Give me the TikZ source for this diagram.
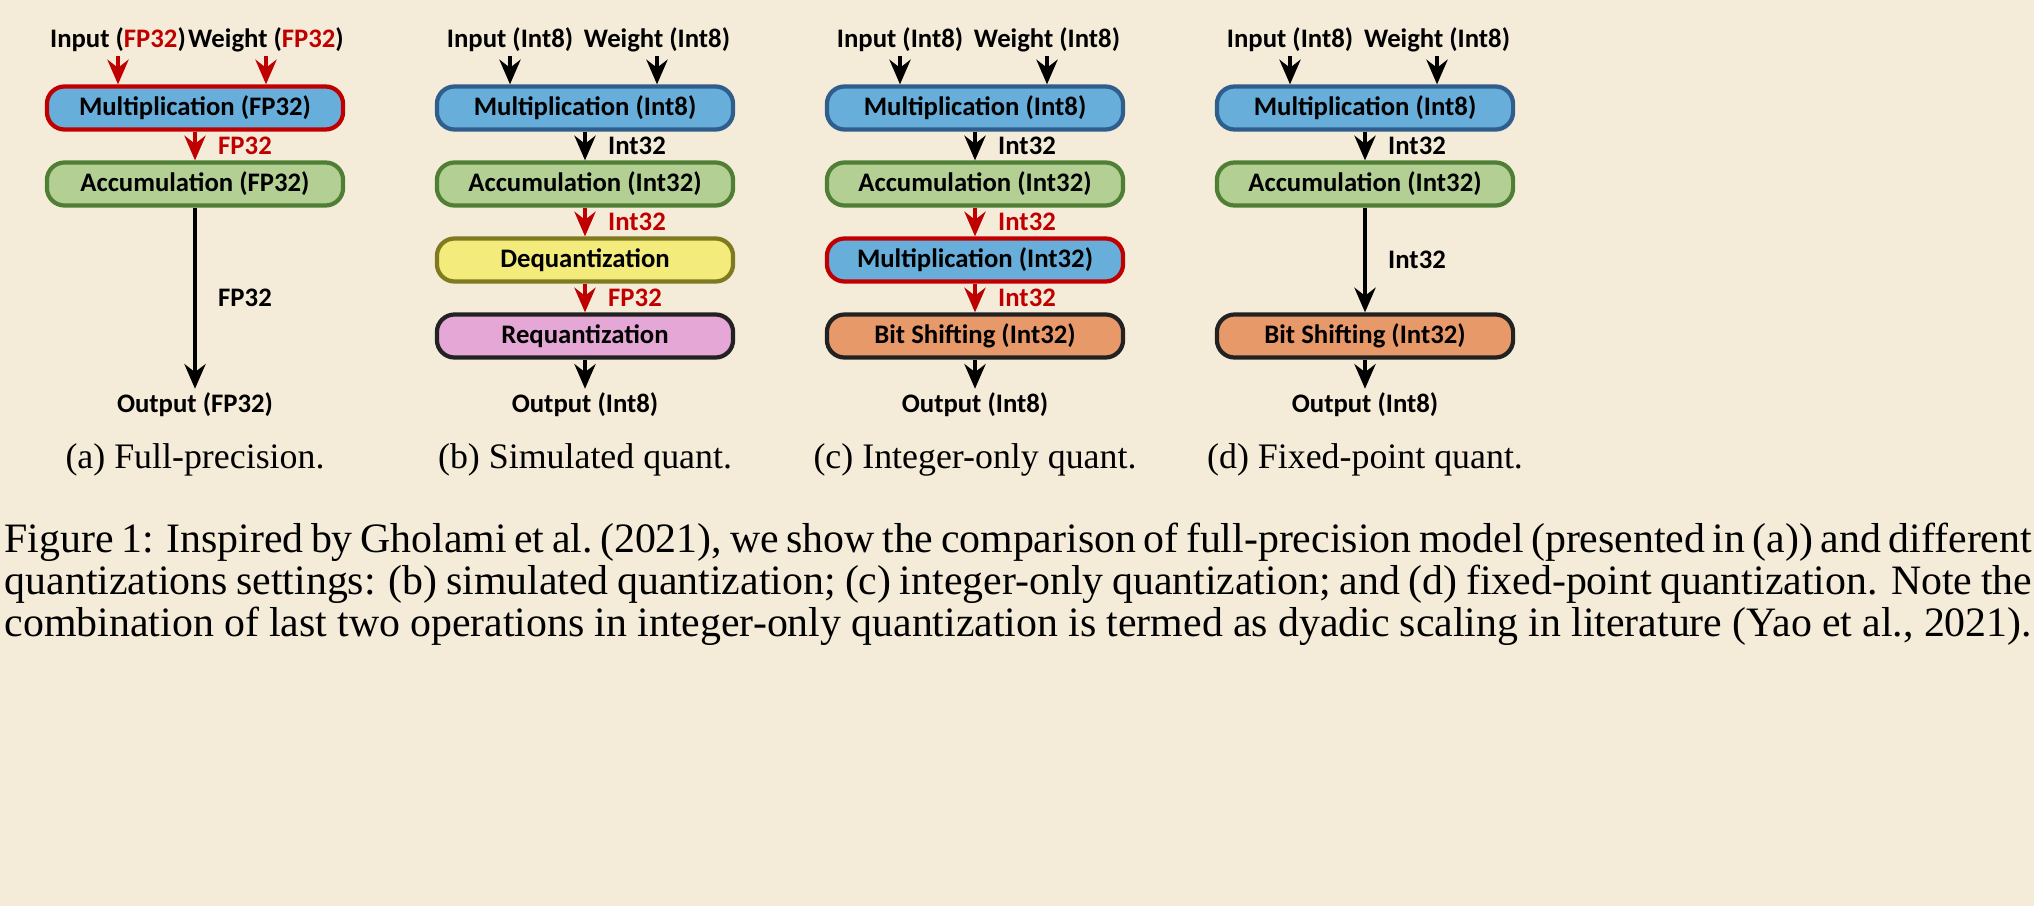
\documentclass[tikz,border=0pt]{standalone}
\usepackage{fontspec}
\setmainfont{Liberation Serif}
\newfontfamily\boxfont{Carlito}
\usetikzlibrary{arrows.meta}
\definecolor{bg}{HTML}{F4ECD9}
\definecolor{qred}{HTML}{C00000}
\definecolor{bfill}{HTML}{67AEDB}\definecolor{bdraw}{HTML}{2F5D8C}
\definecolor{gfill}{HTML}{B3CF94}\definecolor{gdraw}{HTML}{4F7F35}
\definecolor{yfill}{HTML}{F3EB7C}\definecolor{ydraw}{HTML}{7F7A20}
\definecolor{pfill}{HTML}{E5A8D6}\definecolor{pdraw}{HTML}{222222}
\definecolor{ofill}{HTML}{E8996A}\definecolor{odraw}{HTML}{222222}
\tikzset{
  opbox/.style={draw, line width=1.2pt, rounded corners=5pt, minimum width=2.96cm, minimum height=0.43cm, inner sep=0pt, font=\boxfont\bfseries\fontsize{7.6}{9}\selectfont},
  bluebox/.style={opbox, fill=bfill, draw=bdraw},
  greenbox/.style={opbox, fill=gfill, draw=gdraw},
  yellowbox/.style={opbox, fill=yfill, draw=ydraw},
  pinkbox/.style={opbox, fill=pfill, draw=pdraw},
  orangebox/.style={opbox, fill=ofill, draw=odraw},
  redb/.style={draw=qred},
  lbl/.style={font=\boxfont\bfseries\fontsize{7.6}{9}\selectfont, inner sep=1pt},
  arr/.style={-{Stealth[length=7pt,width=6pt]}, line width=1.2pt},
  rarr/.style={arr, draw=qred},
  subcap/.style={font=\fontsize{10.2}{12}\selectfont}
}
\begin{document}
\begin{tikzpicture}[x=0.01cm,y=-0.01cm]
\fill[bg] (0,0) rectangle (2034,906);
\useasboundingbox (0,0) rectangle (2034,906);
% (a)
\node[lbl] (ai) at (118,40) {Input (\textcolor{qred}{FP32})};
\node[lbl] (aw) at (266,40) {Weight (\textcolor{qred}{FP32})};
\node[bluebox,redb] (am) at (195,108) {Multiplication (FP32)};
\node[greenbox] (aa) at (195,184) {Accumulation (FP32)};
\node[lbl] (ao) at (195,405) {Output (FP32)};
\draw[rarr] (ai.south) -- (ai.south|-am.north);
\draw[rarr] (aw.south) -- (aw.south|-am.north);
\draw[rarr] (am) -- node[lbl,right=5pt,text=qred]{FP32} (aa);
\draw[arr] (aa) -- node[lbl,right=5pt]{FP32} (ao);
\node[subcap] (ac) at (195,460) {(a) Full-precision.};
% (b)
\node[lbl] (bi) at (510,40) {Input (Int8)};
\node[lbl] (bw) at (657,40) {Weight (Int8)};
\node[bluebox] (bm) at (585,108) {Multiplication (Int8)};
\node[greenbox] (ba) at (585,184) {Accumulation (Int32)};
\node[yellowbox] (bd) at (585,260) {Dequantization};
\node[pinkbox] (br) at (585,336) {Requantization};
\node[lbl] (bo) at (585,405) {Output (Int8)};
\draw[arr] (bi.south) -- (bi.south|-bm.north);
\draw[arr] (bw.south) -- (bw.south|-bm.north);
\draw[arr] (bm) -- node[lbl,right=5pt]{Int32} (ba);
\draw[rarr] (ba) -- node[lbl,right=5pt,text=qred]{Int32} (bd);
\draw[rarr] (bd) -- node[lbl,right=5pt,text=qred]{FP32} (br);
\draw[arr] (br) -- (bo);
\node[subcap] (bc) at (585,460) {(b) Simulated quant.};
% (c)
\node[lbl] (ci) at (900,40) {Input (Int8)};
\node[lbl] (cw) at (1047,40) {Weight (Int8)};
\node[bluebox] (cm) at (975,108) {Multiplication (Int8)};
\node[greenbox] (ca) at (975,184) {Accumulation (Int32)};
\node[bluebox,redb] (cm2) at (975,260) {Multiplication (Int32)};
\node[orangebox] (cb) at (975,336) {Bit Shifting (Int32)};
\node[lbl] (co) at (975,405) {Output (Int8)};
\draw[arr] (ci.south) -- (ci.south|-cm.north);
\draw[arr] (cw.south) -- (cw.south|-cm.north);
\draw[arr] (cm) -- node[lbl,right=5pt]{Int32} (ca);
\draw[rarr] (ca) -- node[lbl,right=5pt,text=qred]{Int32} (cm2);
\draw[rarr] (cm2) -- node[lbl,right=5pt,text=qred]{Int32} (cb);
\draw[arr] (cb) -- (co);
\node[subcap] (cc) at (975,460) {(c) Integer-only quant.};
% (d)
\node[lbl] (di) at (1290,40) {Input (Int8)};
\node[lbl] (dw) at (1437,40) {Weight (Int8)};
\node[bluebox] (dm) at (1365,108) {Multiplication (Int8)};
\node[greenbox] (da) at (1365,184) {Accumulation (Int32)};
\node[orangebox] (db) at (1365,336) {Bit Shifting (Int32)};
\node[lbl] (do) at (1365,405) {Output (Int8)};
\draw[arr] (di.south) -- (di.south|-dm.north);
\draw[arr] (dw.south) -- (dw.south|-dm.north);
\draw[arr] (dm) -- node[lbl,right=5pt]{Int32} (da);
\draw[arr] (da) -- node[lbl,right=5pt]{Int32} (db);
\draw[arr] (db) -- (do);
\node[subcap] (dc) at (1365,460) {(d) Fixed-point quant.};
% figure caption
\node[anchor=north west, inner sep=0pt, text width=20.26cm, align=justify, font=\fontsize{11.9}{11.95}\selectfont] (fig) at (4,522)
{Figure 1: Inspired by Gholami et al.\ (2021), we show the comparison of full-precision model (presented in (a)) and different quantizations settings: (b) simulated quantization; (c) integer-only quantization; and (d) fixed-point quantization. Note the combination of last two operations in integer-only quantization is termed as dyadic scaling in literature (Yao et al., 2021).};
\end{tikzpicture}
\end{document}
